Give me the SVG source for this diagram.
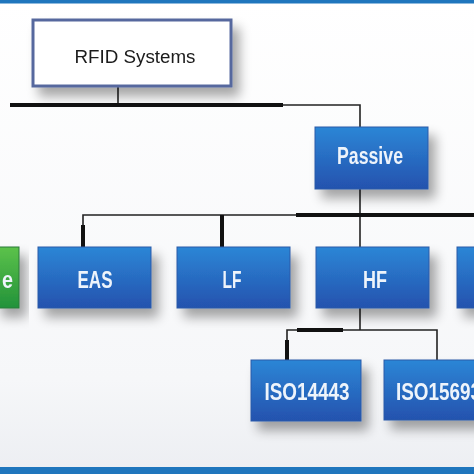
<svg xmlns="http://www.w3.org/2000/svg" width="474" height="474" viewBox="0 0 474 474">
<style>
.lbl{font-family:"Liberation Sans Narrow","Liberation Sans",Arial,sans-serif;fill:#eef4fb;text-anchor:middle;font-size:23px;font-weight:bold}
.blue{fill:url(#gb);stroke:#2a5aa8;stroke-width:1}
.thick{stroke:#111;stroke-width:4;fill:none}
.thin{stroke:#222;stroke-width:1.6;fill:none}
</style>
<defs>
<linearGradient id="gb" x1="0" y1="0" x2="0" y2="1">
<stop offset="0" stop-color="#2c86d6"/><stop offset="1" stop-color="#2452ae"/>
</linearGradient>
<linearGradient id="gg" x1="0" y1="0" x2="0" y2="1">
<stop offset="0" stop-color="#5cc24a"/><stop offset="1" stop-color="#22923a"/>
</linearGradient>
<linearGradient id="bg" x1="0" y1="0" x2="0" y2="1">
<stop offset="0" stop-color="#ffffff"/><stop offset="0.8" stop-color="#f6f7f9"/><stop offset="1" stop-color="#eceef2"/>
</linearGradient>
<filter id="sh" x="-30%" y="-30%" width="170%" height="190%">
<feGaussianBlur in="SourceAlpha" stdDeviation="6"/>
<feOffset dx="7" dy="9" result="b"/>
<feComponentTransfer><feFuncA type="linear" slope="0.35"/></feComponentTransfer>
<feMerge><feMergeNode/><feMergeNode in="SourceGraphic"/></feMerge>
</filter>
</defs>
<rect width="474" height="474" fill="url(#bg)"/>
<rect x="0" y="0" width="474" height="3.5" fill="#1f76bd"/>
<rect x="0" y="467" width="474" height="7" fill="#1f76bd"/>
<g id="connectors">
<path class="thin" d="M118 87V104"/>
<path class="thick" d="M10 105H283"/>
<path class="thin" d="M283 105H360V127"/>
<path class="thin" d="M360 189V247"/>
<path class="thin" d="M83 225V215H296"/>
<path class="thick" d="M296 215H474"/>
<path class="thick" d="M83 225V247"/>
<path class="thick" d="M222 215V247"/>
<path class="thin" d="M360 308V330"/>
<path class="thin" d="M287 340V330H297"/>
<path class="thick" d="M297 330H343"/>
<path class="thin" d="M343 330H437V360"/>
<path class="thick" d="M287 340V360"/>
</g>
<g id="rfid" filter="url(#sh)">
<rect x="33" y="20" width="198" height="66" fill="#fff" stroke="#56689e" stroke-width="3"/>
<text x="135" y="63" class="lbl" style="fill:#1a1a1a;font-size:18px;font-weight:normal" textLength="121" lengthAdjust="spacingAndGlyphs">RFID Systems</text>
</g>
<g id="passive" filter="url(#sh)">
<rect class="blue" x="315" y="127" width="113" height="62"/>
<text x="370" y="164" class="lbl" textLength="66" lengthAdjust="spacingAndGlyphs">Passive</text>
</g>
<g id="active" filter="url(#sh)">
<rect x="-5" y="247" width="24" height="61" fill="url(#gg)" stroke="#2a7a3a"/>
<text x="13" y="288" class="lbl" style="text-anchor:end" textLength="11" lengthAdjust="spacingAndGlyphs">e</text>
</g>
<g id="eas" filter="url(#sh)">
<rect class="blue" x="38" y="247" width="113" height="61"/>
<text x="95" y="288" class="lbl" textLength="35" lengthAdjust="spacingAndGlyphs">EAS</text>
</g>
<g id="lf" filter="url(#sh)">
<rect class="blue" x="177" y="247" width="113" height="61"/>
<text x="232" y="288" class="lbl" textLength="19" lengthAdjust="spacingAndGlyphs">LF</text>
</g>
<g id="hf" filter="url(#sh)">
<rect class="blue" x="316" y="247" width="113" height="61"/>
<text x="375" y="288" class="lbl" textLength="24" lengthAdjust="spacingAndGlyphs">HF</text>
</g>
<g id="uhf" filter="url(#sh)">
<rect class="blue" x="457" y="247" width="40" height="61"/>
</g>
<g id="iso14443" filter="url(#sh)">
<rect class="blue" x="251" y="360" width="110" height="61"/>
<text x="307" y="400" class="lbl" textLength="85" lengthAdjust="spacingAndGlyphs">ISO14443</text>
</g>
<g id="iso15693" filter="url(#sh)">
<rect class="blue" x="384" y="360" width="110" height="60"/>
<text x="396" y="400" class="lbl" style="text-anchor:start" textLength="85" lengthAdjust="spacingAndGlyphs">ISO15693</text>
</g>
</svg>
